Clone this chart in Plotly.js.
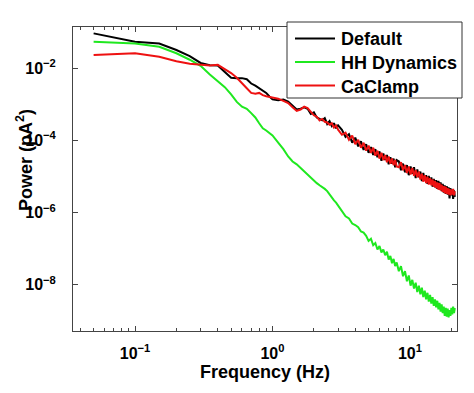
<!DOCTYPE html>
<html>
<head>
<meta charset="utf-8">
<script src="https://cdn.plot.ly/plotly-3.0.1.min.js"></script>
<style>html,body{margin:0;padding:0;background:#fff;}#chart{width:474px;height:393px;}</style>
</head>
<body>
<div id="chart"></div>
<script>
// Frequency grid (Hz)
const freq = [
  0.05,0.1,0.15,0.2,0.25,0.3,0.35,0.4,0.45,0.5,0.55,0.6,0.65,0.7,0.75,0.8,0.85,0.9,0.95,1.0,
  1.1,1.2,1.3,1.4,1.5,1.6,1.7,1.8,1.9,2.0,2.1,2.2,2.3,2.4,2.5,2.6,2.7,2.8,2.9,3.0,
  3.2,3.4,3.6,3.8,4.0,4.2,4.4,4.6,4.8,5.0,5.2,5.4,5.6,5.8,6.0,6.2,6.4,6.6,6.8,7.0,7.2,7.4,7.6,7.8,8.0,
  8.3,8.6,8.9,9.2,9.5,9.8,10.1,10.4,10.7,11.0,11.3,11.6,11.9,12.2,12.5,12.8,13.1,13.4,13.7,14.0,
  14.3,14.6,14.9,15.2,15.5,15.8,16.1,16.4,16.7,17.0,17.3,17.6,17.9,18.2,18.5,18.8,19.1,19.4,19.7,20.0,
  20.3,20.6,20.9,21.2
];
// log10 power (pA^2)
const logDefault = [
  -1.03,-1.26,-1.31,-1.49,-1.66,-1.85,-1.91,-1.92,-2.10,-2.26,-2.27,-2.27,-2.30,-2.42,-2.48,-2.55,-2.62,-2.68,-2.78,-2.86,
  -2.88,-2.86,-2.92,-3.04,-3.14,-3.12,-3.08,-3.12,-3.26,-3.22,-3.36,-3.40,-3.44,-3.38,-3.54,-3.46,-3.60,-3.52,-3.66,-3.58,
  -3.70,-3.90,-3.82,-4.06,-3.92,-4.16,-4.02,-4.26,-4.10,-4.34,-4.18,-4.40,-4.24,-4.46,-4.30,-4.56,-4.36,-4.54,-4.40,-4.66,-4.46,-4.64,-4.50,-4.74,-4.54,
  -4.58,-4.82,-4.64,-4.88,-4.68,-4.96,-4.72,-4.92,-4.74,-5.04,-4.80,-5.02,-4.86,-5.12,-4.90,-5.10,-4.96,-5.20,-4.98,-5.20,
  -5.02,-5.28,-5.06,-5.30,-5.10,-5.34,-5.12,-5.36,-5.16,-5.40,-5.20,-5.44,-5.24,-5.48,-5.26,-5.50,-5.30,-5.60,-5.32,-5.52,
  -5.36,-5.62,-5.38,-5.56
];
const logHH = [
  -1.26,-1.31,-1.40,-1.58,-1.76,-1.93,-2.17,-2.36,-2.52,-2.72,-2.93,-3.06,-3.12,-3.24,-3.36,-3.52,-3.66,-3.72,-3.78,-3.86,
  -4.06,-4.24,-4.44,-4.58,-4.66,-4.76,-4.86,-4.96,-5.04,-5.10,-5.18,-5.24,-5.28,-5.34,-5.40,-5.50,-5.60,-5.66,-5.72,-5.80,
  -5.98,-6.10,-6.16,-6.30,-6.34,-6.40,-6.52,-6.55,-6.64,-6.78,-6.72,-6.90,-6.84,-7.02,-6.92,-7.10,-7.02,-7.18,-7.08,-7.30,-7.20,-7.40,-7.28,-7.48,-7.38,
  -7.62,-7.48,-7.76,-7.62,-7.90,-7.74,-8.02,-7.86,-8.10,-7.94,-8.20,-8.02,-8.26,-8.08,-8.34,-8.16,-8.40,-8.22,-8.46,-8.28,
  -8.52,-8.34,-8.58,-8.40,-8.62,-8.44,-8.68,-8.50,-8.74,-8.54,-8.78,-8.60,-8.86,-8.64,-8.88,-8.66,-8.90,-8.70,-8.86,-8.64,
  -8.82,-8.60,-8.78,-8.64
];
const logCaClamp = [
  -1.63,-1.58,-1.68,-1.80,-1.87,-1.90,-1.92,-1.90,-2.02,-2.13,-2.26,-2.40,-2.55,-2.68,-2.70,-2.68,-2.74,-2.77,-2.79,-2.81,
  -2.84,-2.90,-2.96,-3.08,-3.18,-3.14,-3.06,-3.10,-3.22,-3.30,-3.34,-3.44,-3.40,-3.48,-3.50,-3.56,-3.52,-3.64,-3.58,-3.70,
  -3.84,-3.78,-3.98,-3.86,-4.10,-3.98,-4.20,-4.06,-4.28,-4.14,-4.34,-4.20,-4.42,-4.28,-4.50,-4.34,-4.54,-4.40,-4.60,-4.44,-4.64,-4.50,-4.68,-4.54,-4.72,
  -4.74,-4.60,-4.82,-4.68,-4.90,-4.72,-4.94,-4.76,-4.98,-4.82,-5.02,-4.86,-5.08,-4.92,-5.14,-4.96,-5.18,-5.00,-5.22,-5.04,
  -5.24,-5.08,-5.28,-5.12,-5.32,-5.16,-5.36,-5.18,-5.38,-5.22,-5.42,-5.26,-5.46,-5.28,-5.48,-5.32,-5.50,-5.34,-5.52,-5.36,
  -5.50,-5.34,-5.52,-5.40
];
const seriesNames = ['Default', 'HH Dynamics', 'CaClamp'];
const seriesColors = ['#000000', '#1fe81f', '#ee1111'];
const xTickVals = [0.1, 1, 10];
const xTickText = ['10<sup>−1</sup>', '10<sup>0</sup>', '10<sup>1</sup>'];
const xMinorVals = [0.04,0.05,0.06,0.07,0.08,0.09,0.2,0.3,0.4,0.5,0.6,0.7,0.8,0.9,2,3,4,5,6,7,8,9,20];
const yTickVals = [1e-2, 1e-4, 1e-6, 1e-8];
const yTickText = ['10<sup>−2</sup>', '10<sup>−4</sup>', '10<sup>−6</sup>', '10<sup>−8</sup>'];

const toPow = arr => arr.map(v => Math.pow(10, v));
const allLogs = [logDefault, logHH, logCaClamp];
const traces = allLogs.map((arr, i) => ({
  x: freq, y: toPow(arr), type: 'scatter', mode: 'lines',
  name: seriesNames[i], showlegend: false,
  line: {color: seriesColors[i], width: 2}
}));

const FONT = 'Liberation Sans, Arial, Helvetica, sans-serif';
// plot area in px: x 73..457, y 27..331
const PX = (px) => (px - 73) / 384;
const PY = (py) => (331 - py) / 304;

const shapes = [{
  type: 'rect', xref: 'paper', yref: 'paper', layer: 'above',
  x0: PX(287), x1: PX(462), y0: PY(98), y1: PY(22),
  fillcolor: '#fff', line: {color: '#333', width: 1}
}];
const annotations = [
  {text: '<b>Frequency (Hz)</b>', xref: 'paper', yref: 'paper', x: 0.5, y: -0.135,
   xanchor: 'center', yanchor: 'middle', showarrow: false,
   font: {family: FONT, size: 18, color: '#000'}},
  {text: '<b>Power (pA<sup>2</sup>)</b>', xref: 'paper', yref: 'paper', x: -0.1276, y: 0.5625,
   xanchor: 'center', yanchor: 'middle', showarrow: false, textangle: -90,
   font: {family: FONT, size: 18, color: '#000'}}
];
const legendRows = [38.5, 62, 85.5];
seriesNames.forEach((nm, i) => {
  shapes.push({
    type: 'line', xref: 'paper', yref: 'paper', layer: 'above',
    x0: PX(295), x1: PX(335), y0: PY(legendRows[i]), y1: PY(legendRows[i]),
    line: {color: seriesColors[i], width: 2}
  });
  annotations.push({
    text: '<b>' + nm + '</b>', xref: 'paper', yref: 'paper',
    x: PX(339), y: PY(legendRows[i] + 1), xanchor: 'left', yanchor: 'middle',
    showarrow: false, font: {family: FONT, size: 18, color: '#000'}
  });
});

const axisCommon = {
  type: 'log', showgrid: false, zeroline: false,
  showline: true, linecolor: '#444', linewidth: 1, mirror: 'ticks',
  ticks: 'inside', ticklen: 5, tickcolor: '#444', tickwidth: 1,
  tickfont: {family: FONT, size: 16, color: '#000', weight: 'bold'},
  tickmode: 'array'
};
const layout = {
  width: 474, height: 393,
  margin: {l: 73, r: 17, t: 27, b: 62},
  paper_bgcolor: '#fff', plot_bgcolor: '#fff',
  showlegend: false,
  font: {family: FONT, color: '#000'},
  xaxis: Object.assign({}, axisCommon, {
    range: [-1.451, 1.342],
    tickvals: xTickVals, ticktext: xTickText,
    ticklabelstandoff: 8,
    minor: {tickmode: 'array', tickvals: xMinorVals, ticks: 'inside', ticklen: 3, tickcolor: '#444', showgrid: false}
  }),
  yaxis: Object.assign({}, axisCommon, {
    range: [-9.278, -0.853],
    tickvals: yTickVals, ticktext: yTickText,
    ticklabelstandoff: 13
  }),
  shapes: shapes,
  annotations: annotations
};
Plotly.newPlot('chart', traces, layout, {displayModeBar: false, staticPlot: true});
</script>
</body>
</html>
